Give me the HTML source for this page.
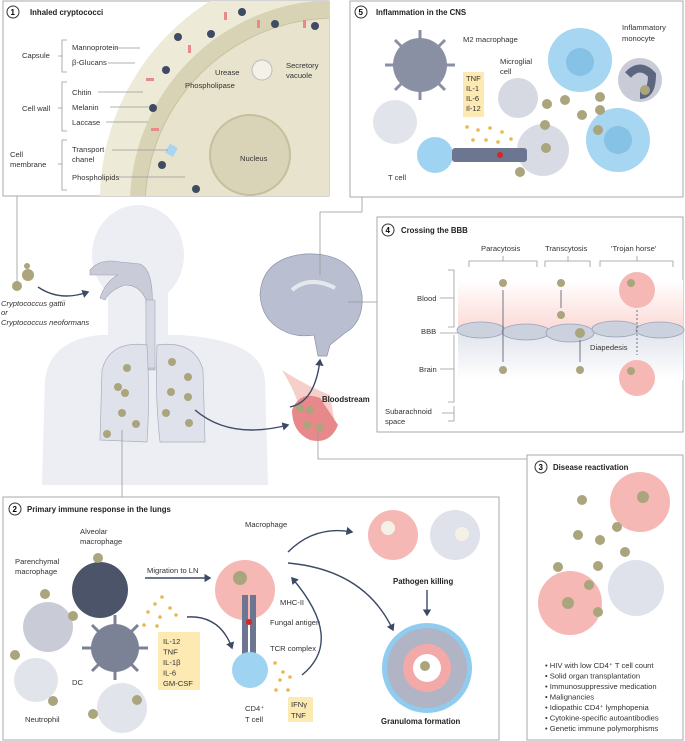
<!DOCTYPE html>
<html><head><meta charset="utf-8"><style>
body{margin:0;background:#fff}
svg{display:block;font-family:"Liberation Sans",sans-serif}
.t{font-size:7.6px;fill:#333}
.b{font-size:7.8px;font-weight:bold;fill:#222}
.ln{stroke:#999;stroke-width:0.8;fill:none}
.bx{fill:#fff;stroke:#aaa;stroke-width:1}
.y{fill:#aaa57c}
.ar{stroke:#3d4a66;stroke-width:1.4;fill:none;marker-end:url(#ah)}
</style></head><body>
<svg width="685" height="741" viewBox="0 0 685 741">
<defs>
<marker id="ah" markerWidth="6" markerHeight="6" refX="4" refY="3" orient="auto"><path d="M0,0L5,3L0,6z" fill="#3d4a66"/></marker>
<clipPath id="c1"><rect x="3" y="1" width="326" height="195"/></clipPath>
<linearGradient id="bl" x1="0" y1="0" x2="0" y2="1"><stop offset="0" stop-color="#fff"/><stop offset="0.5" stop-color="#fbd9d6"/><stop offset="0.55" stop-color="#e3e6ee"/><stop offset="1" stop-color="#fff"/></linearGradient>
</defs>

<!-- body silhouette -->
<g fill="#eceef3">
<ellipse cx="138" cy="255" rx="46" ry="50"/>
<rect x="108" y="280" width="60" height="70"/>
<path d="M42,485 L45,380 Q50,340 100,335 L180,335 Q262,340 265,380 L268,485z"/>
</g>
<!-- airway -->
<path d="M90,270 Q100,258 120,262 L140,264 Q150,268 152,290 L155,370 L148,370 L146,300 Q140,285 125,285 Q110,290 105,300 L100,298 Q105,282 118,275 Q100,275 90,275z" fill="#c9ccd8" stroke="#9aa0b4" stroke-width="0.6"/>
<rect x="146" y="300" width="9" height="68" fill="#d7dae3" stroke="#9aa0b4" stroke-width="0.5"/>
<path d="M147,345 Q110,340 102,370 L100,440 L147,442 Q150,400 147,345z" fill="#dfe2ea" stroke="#a7adbe" stroke-width="0.7"/>
<path d="M157,345 Q195,340 203,370 L205,442 L160,442 Q155,400 157,345z" fill="#dfe2ea" stroke="#a7adbe" stroke-width="0.7"/>
<g class="y"><circle cx="127" cy="368" r="4"/><circle cx="118" cy="387" r="4"/><circle cx="125" cy="393" r="4"/><circle cx="122" cy="413" r="4"/><circle cx="136" cy="424" r="4"/><circle cx="107" cy="434" r="4"/><circle cx="172" cy="362" r="4"/><circle cx="188" cy="377" r="4"/><circle cx="171" cy="392" r="4"/><circle cx="188" cy="397" r="4"/><circle cx="166" cy="413" r="4"/><circle cx="189" cy="423" r="4"/></g>
<!-- brain -->
<path d="M260,295 Q262,258 305,254 Q355,252 362,295 Q364,322 345,333 L330,345 L327,356 L318,356 L314,335 Q295,338 282,330 Q262,320 260,295z" fill="#b9bfd0" stroke="#8d94aa" stroke-width="0.7"/>
<path d="M292,290 Q310,275 335,288" stroke="#e6e8ef" stroke-width="4" fill="none"/>
<!-- vessel -->
<path d="M282,370 Q300,400 300,415 Q315,445 336,430 L330,395 Q305,385 282,370z" fill="#f6cfcb"/>
<path d="M292,410 Q300,390 320,398 L338,425 Q330,445 310,440 Q292,432 292,410z" fill="#e7888a"/>
<g class="y"><circle cx="300" cy="408" r="4"/><circle cx="310" cy="410" r="4"/><circle cx="307" cy="425" r="4"/><circle cx="320" cy="427" r="4"/></g>
<text class="b" x="322" y="402">Bloodstream</text>
<path class="ar" d="M290,407 Q315,402 320,360"/>
<path class="ar" d="M195,410 Q230,440 288,425"/>
<!-- inhaled yeast -->
<g class="y"><circle cx="17" cy="286" r="5"/><circle cx="28" cy="275" r="6"/><circle cx="27" cy="266" r="3"/></g>
<path class="ar" d="M38,287 Q60,302 88,292"/>
<text x="1" y="306" font-size="7.6" font-style="italic" fill="#333">Cryptococcus gattii</text>
<text x="1" y="315" font-size="7.6" font-style="italic" fill="#333">or</text>
<text x="1" y="325" font-size="7.6" font-style="italic" fill="#333">Cryptococcus neoformans</text>

<!-- connectors -->
<path class="ln" d="M17,196 V282"/>
<path class="ln" d="M362,197 V212 H320 V275"/>
<path class="ln" d="M377,302 H348"/>
<path class="ln" d="M527,459 H318 V432"/>
<path class="ln" d="M122,497 V430"/>

<!-- BOX 1 -->
<rect class="bx" x="3" y="1" width="326" height="195"/>
<g clip-path="url(#c1)">
<circle cx="335" cy="200" r="235" fill="#eeead8"/>
<circle cx="335" cy="205" r="205" fill="#d8d3b5"/>
<circle cx="335" cy="208" r="190" fill="#e7e3cc" stroke="#c9c3a3"/>
<circle cx="250" cy="155" r="40" fill="#d9d4b7" stroke="#c5bf9e" stroke-width="2"/>
<circle cx="262" cy="70" r="10" fill="#f4f2e8" stroke="#bbb"/>
<g fill="#3f4a63"><circle cx="242" cy="12" r="4"/><circle cx="275" cy="24" r="4"/><circle cx="315" cy="26" r="4"/><circle cx="178" cy="37" r="4"/><circle cx="211" cy="34" r="4"/><circle cx="166" cy="70" r="4"/><circle cx="153" cy="108" r="4"/><circle cx="162" cy="165" r="4"/><circle cx="196" cy="189" r="4"/></g>
<g fill="#e88a8a"><rect x="224" y="12" width="3" height="8"/><rect x="257" y="20" width="3" height="8"/><rect x="303" y="20" width="3" height="8"/><rect x="188" y="45" width="3" height="8"/><rect x="146" y="78" width="8" height="3"/><rect x="151" y="128" width="8" height="3"/></g>
<rect x="167" y="145" width="9" height="10" fill="#a9d5f0" transform="rotate(30 171 150)"/>
</g>
<circle cx="13" cy="12" r="6" fill="#fff" stroke="#333"/><text x="10.5" y="15" font-size="8" font-weight="bold">1</text>
<text class="b" x="30" y="15">Inhaled cryptococci</text>
<g class="t">
<text x="22" y="58">Capsule</text><text x="72" y="50">Mannoprotein</text><text x="72" y="65">β-Glucans</text>
<text x="22" y="111">Cell wall</text><text x="72" y="95">Chitin</text><text x="72" y="110">Melanin</text><text x="72" y="125">Laccase</text>
<text x="10" y="157">Cell</text><text x="10" y="167">membrane</text><text x="72" y="152">Transport</text><text x="72" y="162">chanel</text><text x="72" y="180">Phospholipids</text>
<text x="215" y="75">Urease</text><text x="185" y="88">Phospholipase</text><text x="286" y="68">Secretory</text><text x="286" y="78">vacuole</text>
<text x="240" y="161">Nucleus</text>
</g>
<path class="ln" d="M67,40 H62 V72 H67 M62,56 H58 M67,82 H62 V131 H67 M62,108 H58 M67,140 H62 V190 H67 M62,164 H58 M115,48 H140 M108,63 H135 M98,92 H143 M110,107 H150 M106,122 H148 M112,150 H168 M118,177 H185"/>

<!-- BOX 5 -->
<rect class="bx" x="350" y="1" width="333" height="196"/>
<circle cx="361" cy="12" r="6" fill="#fff" stroke="#333"/><text x="358.5" y="15" font-size="8" font-weight="bold">5</text>
<text class="b" x="376" y="15">Inflammation in the CNS</text>
<circle cx="420" cy="65" r="27" fill="#8a90a4"/>
<g stroke="#8a90a4" stroke-width="3"><line x1="420" y1="30" x2="420" y2="100"/><line x1="385" y1="65" x2="455" y2="65"/><line x1="395" y1="40" x2="445" y2="90"/><line x1="445" y1="40" x2="395" y2="90"/></g>
<circle cx="395" cy="122" r="22" fill="#e2e4eb"/>
<circle cx="580" cy="60" r="32" fill="#a6d6f2"/><circle cx="580" cy="62" r="14" fill="#86c1e6"/>
<circle cx="640" cy="80" r="22" fill="#c9ccd7"/><path d="M628,75 Q640,62 652,75 Q652,95 640,95" stroke="#5d6680" stroke-width="8" fill="none"/>
<circle cx="518" cy="98" r="20" fill="#d6d9e2"/>
<circle cx="543" cy="150" r="26" fill="#d8dbe3"/>
<circle cx="618" cy="140" r="32" fill="#a6d6f2"/><circle cx="618" cy="140" r="14" fill="#86c1e6"/>
<circle cx="435" cy="155" r="18" fill="#9fd3f2"/>
<rect x="452" y="148" width="75" height="14" rx="3" fill="#6d7690"/><circle cx="500" cy="155" r="3" fill="#d22"/>
<rect x="463" y="72" width="21" height="45" fill="#fde9b2"/>
<g class="t"><text x="466" y="81">TNF</text><text x="466" y="91">IL-1</text><text x="466" y="101">IL-6</text><text x="466" y="111">Il-12</text>
<text x="463" y="42">M2 macrophage</text><text x="622" y="30">Inflammatory</text><text x="622" y="41">monocyte</text><text x="500" y="64">Microglial</text><text x="500" y="74">cell</text><text x="388" y="180">T cell</text></g>
<g class="y"><circle cx="547" cy="104" r="5"/><circle cx="565" cy="100" r="5"/><circle cx="545" cy="125" r="5"/><circle cx="582" cy="115" r="5"/><circle cx="600" cy="97" r="5"/><circle cx="600" cy="110" r="5"/><circle cx="598" cy="130" r="5"/><circle cx="546" cy="148" r="5"/><circle cx="520" cy="172" r="5"/><circle cx="645" cy="90" r="5"/></g>
<g fill="#e8b84a"><circle cx="467" cy="127" r="1.8"/><circle cx="478" cy="130" r="1.8"/><circle cx="490" cy="128" r="1.8"/><circle cx="502" cy="132" r="1.8"/><circle cx="473" cy="140" r="1.8"/><circle cx="486" cy="140" r="1.8"/><circle cx="498" cy="142" r="1.8"/><circle cx="511" cy="139" r="1.8"/></g>

<!-- BOX 4 -->
<rect class="bx" x="377" y="217" width="306" height="215"/>
<rect x="458" y="280" width="225" height="100" fill="url(#bl)"/>
<circle cx="388" cy="230" r="6" fill="#fff" stroke="#333"/><text x="385.5" y="233" font-size="8" font-weight="bold">4</text>
<text class="b" x="401" y="233">Crossing the BBB</text>
<g class="t"><text x="481" y="251">Paracytosis</text><text x="545" y="251">Transcytosis</text><text x="611" y="251">'Trojan horse'</text>
<text x="417" y="301">Blood</text><text x="421" y="334">BBB</text><text x="419" y="372">Brain</text><text x="385" y="414">Subarachnoid</text><text x="385" y="424">space</text></g>
<path class="ln" d="M469,267 V261 H537 V267 M503,261 V256 M545,267 V261 H590 V267 M568,261 V256 M600,267 V261 H673 V267 M637,261 V256 M448,270 H454 M454,270 V327 H448 M454,335 V402 H448 M454,406 V421 H448 M440,298 H454 M440,333 H458 M440,369 H454 M442,413 H454"/>
<g fill="#ccd1de" stroke="#9aa2b8" stroke-width="0.8"><ellipse cx="481" cy="330" rx="24" ry="8"/><ellipse cx="526" cy="332" rx="24" ry="8"/><ellipse cx="570" cy="333" rx="24" ry="9"/><ellipse cx="616" cy="329" rx="24" ry="8"/><ellipse cx="660" cy="330" rx="24" ry="8"/></g>
<g class="y"><circle cx="503" cy="283" r="4"/><circle cx="503" cy="370" r="4"/><circle cx="561" cy="283" r="4"/><circle cx="561" cy="315" r="4"/><circle cx="580" cy="333" r="5"/><circle cx="580" cy="370" r="4"/></g>
<circle cx="637" cy="290" r="18" fill="#f5b8b4"/><circle cx="631" cy="283" r="4" class="y"/>
<circle cx="637" cy="378" r="18" fill="#f5b8b4"/><circle cx="631" cy="371" r="4" class="y"/>
<path d="M503,290 V362 M561,290 V308 M580,340 V362" stroke="#556" stroke-width="0.8"/>
<path d="M637,310 V355" stroke="#556" stroke-width="0.8" stroke-dasharray="2,2"/>
<text class="t" x="590" y="350">Diapedesis</text>

<!-- BOX 3 -->
<rect class="bx" x="527" y="455" width="156" height="285"/>
<circle cx="541" cy="467" r="6" fill="#fff" stroke="#333"/><text x="538.5" y="470" font-size="8" font-weight="bold">3</text>
<text class="b" x="553" y="470">Disease reactivation</text>
<circle cx="640" cy="502" r="30" fill="#f5b8b4"/><circle cx="643" cy="497" r="6" class="y"/>
<circle cx="570" cy="603" r="32" fill="#f5b8b4"/><circle cx="568" cy="603" r="6" class="y"/>
<circle cx="636" cy="588" r="28" fill="#dfe2ea"/>
<g class="y"><circle cx="582" cy="500" r="5"/><circle cx="617" cy="527" r="5"/><circle cx="578" cy="535" r="5"/><circle cx="600" cy="540" r="5"/><circle cx="625" cy="552" r="5"/><circle cx="558" cy="567" r="5"/><circle cx="598" cy="566" r="5"/><circle cx="589" cy="585" r="5"/><circle cx="598" cy="612" r="5"/></g>
<g class="t"><text x="545" y="668">• HIV with low CD4⁺ T cell count</text><text x="545" y="678.5">• Solid organ transplantation</text><text x="545" y="689">• Immunosuppressive medication</text><text x="545" y="699.5">• Malignancies</text><text x="545" y="710">• Idiopathic CD4⁺ lymphopenia</text><text x="545" y="720.5">• Cytokine-specific autoantibodies</text><text x="545" y="731">• Genetic immune polymorphisms</text></g>

<!-- BOX 2 -->
<rect class="bx" x="3" y="497" width="496" height="243"/>
<circle cx="15" cy="509" r="6" fill="#fff" stroke="#333"/><text x="12.5" y="512" font-size="8" font-weight="bold">2</text>
<text class="b" x="27" y="512">Primary immune response in the lungs</text>
<circle cx="48" cy="627" r="25" fill="#c9ccd7"/>
<circle cx="100" cy="590" r="28" fill="#4c5469"/>
<circle cx="115" cy="648" r="24" fill="#7c8296"/>
<g stroke="#7c8296" stroke-width="3"><line x1="115" y1="615" x2="115" y2="680"/><line x1="82" y1="648" x2="148" y2="648"/><line x1="92" y1="625" x2="138" y2="671"/><line x1="138" y1="625" x2="92" y2="671"/></g>
<circle cx="36" cy="680" r="22" fill="#e2e4eb"/>
<circle cx="122" cy="708" r="25" fill="#e2e4eb"/>
<g class="y"><circle cx="98" cy="558" r="5"/><circle cx="45" cy="594" r="5"/><circle cx="73" cy="616" r="5"/><circle cx="15" cy="655" r="5"/><circle cx="53" cy="701" r="5"/><circle cx="93" cy="714" r="5"/><circle cx="137" cy="700" r="5"/></g>
<g fill="#e8b84a"><circle cx="162" cy="597" r="1.8"/><circle cx="155" cy="604" r="1.8"/><circle cx="170" cy="608" r="1.8"/><circle cx="148" cy="612" r="1.8"/><circle cx="160" cy="617" r="1.8"/><circle cx="176" cy="615" r="1.8"/><circle cx="144" cy="625" r="1.8"/><circle cx="157" cy="626" r="1.8"/></g>
<rect x="158" y="632" width="42" height="58" fill="#fde9b2"/>
<g class="t"><text x="163" y="644">IL-12</text><text x="163" y="654.5">TNF</text><text x="163" y="665">IL-1β</text><text x="163" y="675.5">IL-6</text><text x="163" y="686">GM-CSF</text>
<text x="80" y="534">Alveolar</text><text x="80" y="544">macrophage</text><text x="15" y="564">Parenchymal</text><text x="15" y="574">macrophage</text><text x="72" y="685">DC</text><text x="25" y="722">Neutrophil</text>
<text x="147" y="573">Migration to LN</text><text x="245" y="527">Macrophage</text><text x="280" y="605">MHC-II</text><text x="270" y="625">Fungal antigen</text><text x="270" y="651">TCR complex</text><text x="245" y="711">CD4⁺</text><text x="245" y="722">T cell</text></g>
<path class="ar" d="M145,578 H210"/>
<path class="ar" d="M187,617 Q220,615 232,648"/>
<circle cx="245" cy="590" r="30" fill="#f5b8b4"/><circle cx="240" cy="578" r="7" class="y"/>
<rect x="242" y="595" width="6" height="60" fill="#6d7690"/><rect x="250" y="595" width="6" height="60" fill="#6d7690"/>
<circle cx="249" cy="622" r="3" fill="#d22"/>
<circle cx="250" cy="670" r="18" fill="#9fd3f2"/>
<g fill="#e8b84a"><circle cx="275" cy="663" r="1.8"/><circle cx="283" cy="672" r="1.8"/><circle cx="280" cy="680" r="1.8"/><circle cx="290" cy="677" r="1.8"/><circle cx="276" cy="690" r="1.8"/><circle cx="288" cy="690" r="1.8"/></g>
<rect x="288" y="697" width="25" height="25" fill="#fde9b2"/>
<g class="t"><text x="291" y="707">IFNγ</text><text x="291" y="718">TNF</text></g>
<path class="ar" d="M302,675 Q345,640 292,578"/>
<path class="ar" d="M288,552 Q315,525 352,532"/>
<path class="ar" d="M288,563 Q365,570 393,630"/>
<circle cx="393" cy="535" r="25" fill="#f5b8b4"/><circle cx="388" cy="528" r="7" fill="#f6f1e6"/>
<circle cx="455" cy="535" r="25" fill="#dfe2ea"/><circle cx="462" cy="534" r="7" fill="#f6f1e6"/>
<text class="b" x="393" y="584">Pathogen killing</text>
<path class="ar" d="M427,590 V615"/>
<circle cx="427" cy="668" r="45" fill="#8fccef"/>
<circle cx="427" cy="668" r="40" fill="#b0b4c4"/>
<circle cx="427" cy="668" r="24" fill="#f2a9a8"/>
<circle cx="427" cy="668" r="14" fill="#fff"/><circle cx="425" cy="666" r="5" class="y"/>
<text class="b" x="381" y="724">Granuloma formation</text>
</svg>
</body></html>
